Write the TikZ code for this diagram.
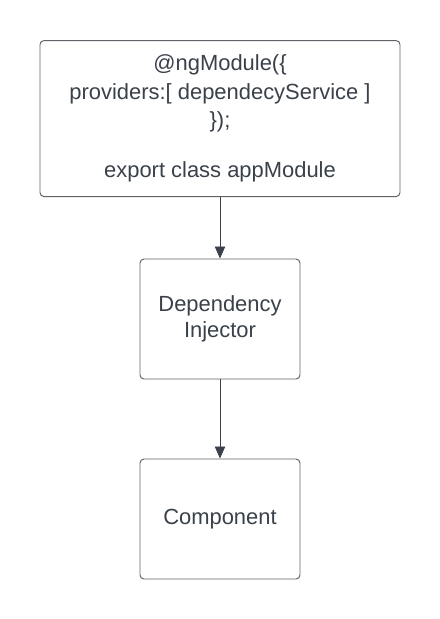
\documentclass[tikz,border=0pt]{standalone}
\usepackage{fontspec}
\setmainfont{Liberation Sans}
\usepackage{tikz}
\usetikzlibrary{positioning,arrows.meta}
\definecolor{boxline}{RGB}{95, 99, 104}
\definecolor{inkcolor}{RGB}{58, 65, 74}
\tikzset{
    step box/.style={rectangle, rounded corners=0.1cm, draw=boxline, line width=0.7pt, fill=white, text=inkcolor, align=center, font=\fontsize{15.6}{18.5}\selectfont, inner sep=0pt},
    module box/.style={step box, minimum width=9cm, minimum height=3.9cm, font=\fontsize{15.6}{20.3}\selectfont},
    small box/.style={step box, minimum width=4cm, minimum height=3cm},
    flow arrow/.style={-{Triangle[length=0.3cm, width=0.26cm]}, line width=0.7pt, draw=inkcolor, fill=inkcolor}
}
\begin{document}
\begin{tikzpicture}
    \useasboundingbox (0,0) rectangle (11,15.475);

    % App module
    \node[module box] (module) at (5.5,12.51) {@ngModule(\{\\providers:[ dependecyService ]\\\});\\[15pt]export class appModule};

    % Injector
    \node[small box] (injector) at (5.5,7.5) {Dependency\\Injector};

    % Component
    \node[small box] (component) at (5.5,2.5) {Component};

    % Arrows
    \draw[flow arrow] (module) -- (injector);
    \draw[flow arrow] (injector) -- (component);
\end{tikzpicture}
\end{document}
